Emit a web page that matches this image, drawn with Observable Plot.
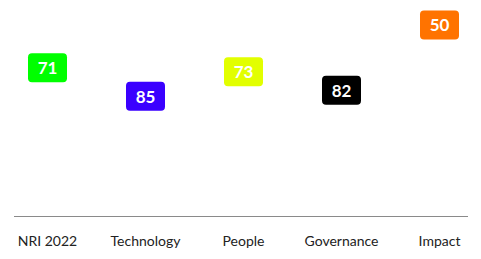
<!DOCTYPE html>
<html>
<head>
<meta charset="utf-8">
<script src="https://cdn.jsdelivr.net/npm/d3@7"></script>
<script src="https://cdn.jsdelivr.net/npm/@observablehq/plot@0.6"></script>
<style>
  html, body { margin: 0; padding: 0; background: #fff; }
  #chart { width: 481px; height: 259px; }
</style>
</head>
<body>
<div id="chart"></div>
<script>
const categories = ["NRI 2022", "Technology", "People", "Governance", "Impact"];
const values = [71, 85, 73, 82, 50];
const colors = ["#00ff00", "#3a00ff", "#e2ff00", "#000000", "#ff7300"];

const data = categories.map((c, i) => ({category: c, value: values[i], color: colors[i]}));

// rounded rectangle symbol (fixed pixel size)
const roundedBox = {
  draw(context) {
    const w = 39, h = 29, r = 4;
    const x0 = -w / 2, y0 = -h / 2, x1 = w / 2, y1 = h / 2;
    context.moveTo(x0 + r, y0);
    context.lineTo(x1 - r, y0);
    context.arcTo(x1, y0, x1, y0 + r, r);
    context.lineTo(x1, y1 - r);
    context.arcTo(x1, y1, x1 - r, y1, r);
    context.lineTo(x0 + r, y1);
    context.arcTo(x0, y1, x0, y1 - r, r);
    context.lineTo(x0, y0 + r);
    context.arcTo(x0, y0, x0 + r, y0, r);
    context.closePath();
  }
};

const chart = Plot.plot({
  width: 481,
  height: 259,
  marginTop: 0,
  marginBottom: 43,
  marginLeft: 14,
  marginRight: 14,
  style: {fontFamily: "Lato, sans-serif", background: "#fff"},
  x: {type: "point", domain: categories, range: [46, 440], padding: 0, label: null},
  y: {domain: [38, 144], reverse: true, axis: null},
  marks: [
    Plot.frame({anchor: "bottom", stroke: "#8a8a8a", strokeWidth: 1}),
    Plot.axisX({tickSize: 0, tickPadding: 20, fontSize: 14, fill: "#222", label: null}),
    Plot.dot(data, {x: "category", y: "value", symbol: roundedBox, fill: "color", stroke: null}),
    Plot.text(data, {x: "category", y: "value", text: d => String(d.value), fill: "white",
      fontSize: 17, fontWeight: "bold", dy: 1})
  ]
});
chart.style.display = "block";
document.getElementById("chart").appendChild(chart);
</script>
</body>
</html>
